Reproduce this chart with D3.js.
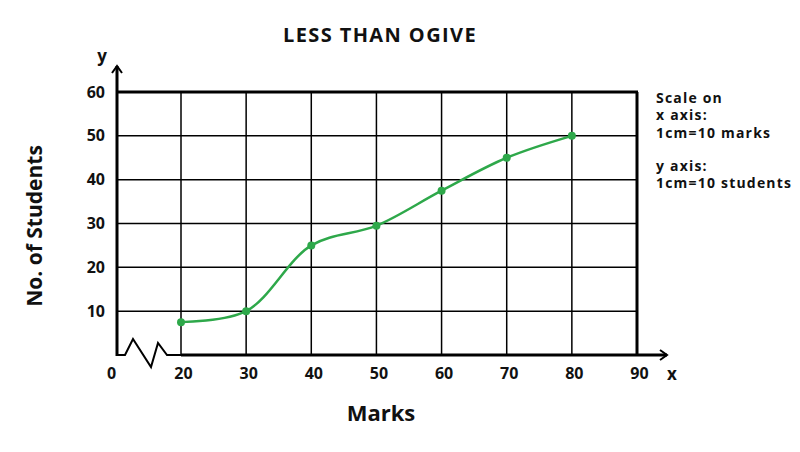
<!DOCTYPE html>
<html>
<head>
<meta charset="utf-8">
<script src="https://cdn.jsdelivr.net/npm/d3@7"></script>
<style>
  body { margin: 0; background: #fff; }
  svg text { font-family: "Open Sans", Lato, sans-serif; fill: #111; }
</style>
</head>
<body>
<svg width="800" height="452"></svg>
<script>
// less than ogive data
var marks = [20, 30, 40, 50, 60, 70, 80];
var students = [7.5, 10, 25, 29.5, 37.5, 45, 50];
var xTicks = [0, 20, 30, 40, 50, 60, 70, 80, 90];
var yTicks = [10, 20, 30, 40, 50, 60];
var xScaleNote = ["Scale on", "x axis:", "1cm=10 marks"];
var yScaleNote = ["y axis:", "1cm=10 students"];

var svg = d3.select("svg");

// 0..20 is squeezed into one cell (broken axis)
var x = d3.scaleLinear().domain([0, 20, 90]).range([117, 181, 637]);
var y = d3.scaleLinear().domain([0, 60]).range([355, 92]);

var green = "#2ea84a";

// grid
svg.append("g").selectAll("line")
  .data(marks)
  .enter().append("line")
  .attr("x1", d => x(d)).attr("x2", d => x(d))
  .attr("y1", y(0)).attr("y2", y(60))
  .attr("stroke", "#000").attr("stroke-width", 1.5);

svg.append("g").selectAll("line")
  .data(yTicks.slice(0, -1))
  .enter().append("line")
  .attr("x1", x(0)).attr("x2", x(90))
  .attr("y1", d => y(d)).attr("y2", d => y(d))
  .attr("stroke", "#000").attr("stroke-width", 1.5);

// top and right border
svg.append("line")
  .attr("x1", x(0)).attr("x2", x(90) + 1)
  .attr("y1", y(60)).attr("y2", y(60))
  .attr("stroke", "#000").attr("stroke-width", 3);
svg.append("line")
  .attr("x1", x(90)).attr("x2", x(90))
  .attr("y1", y(60)).attr("y2", y(0))
  .attr("stroke", "#000").attr("stroke-width", 3);

// y axis with arrow
svg.append("line")
  .attr("x1", x(0)).attr("x2", x(0))
  .attr("y1", y(0) + 1).attr("y2", 66)
  .attr("stroke", "#000").attr("stroke-width", 3);
svg.append("path")
  .attr("d", "M" + (x(0) - 5) + ",73 L" + x(0) + ",66 L" + (x(0) + 5) + ",73")
  .attr("fill", "none").attr("stroke", "#000").attr("stroke-width", 2);

// x axis: short stub, zigzag break, then main line with arrow
svg.append("path")
  .attr("d", "M" + x(0) + "," + y(0) + " L125," + y(0) + " L133,339 L151,367 L158,343 L167," + y(0) + " L" + x(20) + "," + y(0))
  .attr("fill", "none").attr("stroke", "#000").attr("stroke-width", 2);
svg.append("line")
  .attr("x1", x(20)).attr("x2", 667)
  .attr("y1", y(0)).attr("y2", y(0))
  .attr("stroke", "#000").attr("stroke-width", 3);
svg.append("path")
  .attr("d", "M660," + (y(0) - 5) + " L667," + y(0) + " L660," + (y(0) + 5))
  .attr("fill", "none").attr("stroke", "#000").attr("stroke-width", 2);

// tick labels
var xAxis = svg.append("g")
  .attr("transform", "translate(0," + (y(0) + 5) + ")")
  .call(d3.axisBottom(x).tickValues(xTicks).tickSize(0).tickPadding(8));
xAxis.select(".domain").remove();
xAxis.selectAll("text")
  .attr("font-size", 16).attr("font-weight", "bold")
  .attr("font-family", "'Open Sans', sans-serif").attr("fill", "#111")
  .attr("dx", d => d === 0 ? -6 : 2);

var yAxis = svg.append("g")
  .attr("transform", "translate(" + (x(0) - 12) + ",0)")
  .call(d3.axisLeft(y).tickValues(yTicks).tickSize(0).tickPadding(0));
yAxis.select(".domain").remove();
yAxis.selectAll("text")
  .attr("font-size", 16).attr("font-weight", "bold")
  .attr("font-family", "'Open Sans', sans-serif").attr("fill", "#111");

// axis letters
svg.append("text").attr("x", 102).attr("y", 62).attr("text-anchor", "middle")
  .attr("font-size", 17).attr("font-weight", "bold").text("y");
svg.append("text").attr("x", 672).attr("y", 380).attr("text-anchor", "middle")
  .attr("font-size", 17).attr("font-weight", "bold").text("x");

// curve
var line = d3.line()
  .x((d, i) => x(marks[i]))
  .y(d => y(d))
  .curve(d3.curveCatmullRom.alpha(0.5));

svg.append("path")
  .datum(students)
  .attr("d", line)
  .attr("fill", "none")
  .attr("stroke", green)
  .attr("stroke-width", 2.5);

svg.selectAll("circle.pt")
  .data(students)
  .enter().append("circle")
  .attr("class", "pt")
  .attr("cx", (d, i) => x(marks[i]))
  .attr("cy", d => y(d))
  .attr("r", 4)
  .attr("fill", green);

// titles
svg.append("text").attr("x", 380).attr("y", 42).attr("text-anchor", "middle")
  .attr("font-size", 20).attr("font-weight", "bold")
  .attr("letter-spacing", 1.4).text("LESS THAN OGIVE");
svg.append("text").attr("x", 381).attr("y", 421).attr("text-anchor", "middle")
  .attr("font-size", 22).attr("font-weight", "bold").text("Marks");
svg.append("text")
  .attr("transform", "translate(42,226) rotate(-90)")
  .attr("text-anchor", "middle")
  .attr("font-size", 21).attr("font-weight", "bold").text("No. of Students");

// scale note
function note(lines, top) {
  svg.append("g").selectAll("text")
    .data(lines)
    .enter().append("text")
    .attr("x", 656)
    .attr("y", (d, i) => top + i * 17.4)
    .attr("font-family", "Lato, sans-serif")
    .attr("font-size", 14).attr("font-weight", "bold")
    .attr("letter-spacing", 1.2)
    .text(d => d);
}
note(xScaleNote, 103);
note(yScaleNote, 171);
</script>
</body>
</html>
